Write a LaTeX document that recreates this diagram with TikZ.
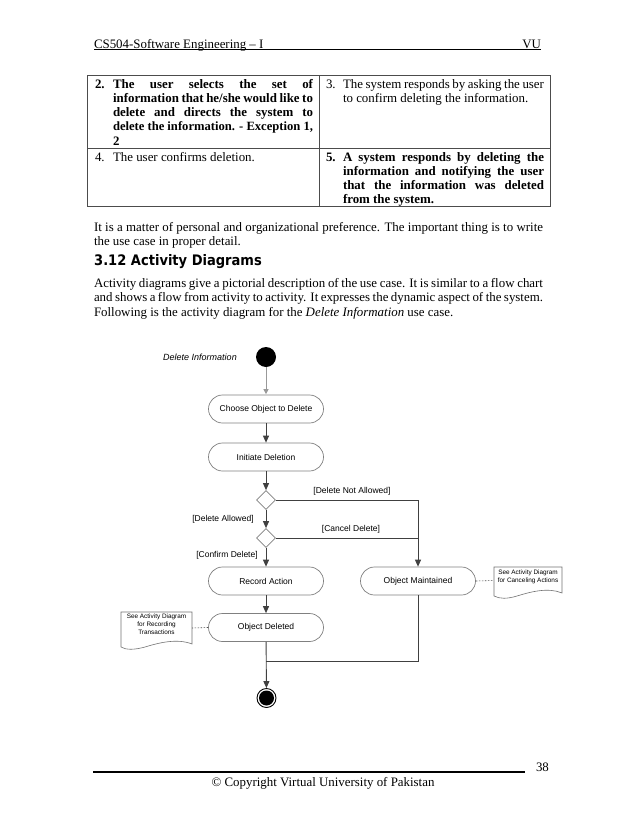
\documentclass[tikz,border=0pt]{standalone}
\usepackage{fontspec}
\setmainfont{Liberation Serif}
\setsansfont{Liberation Sans}
\newfontfamily\headfont[FakeStretch=0.9]{DejaVu Sans}
\usetikzlibrary{arrows.meta,shapes.geometric}
\newcommand{\jline}[1]{\makebox[200bp][s]{#1}}
\begin{document}
\begin{tikzpicture}[x=1bp,y=-1bp,
  body/.style={inner sep=0pt,outer sep=0pt,font=\fontsize{12.9bp}{14.3bp}\selectfont},
  act/.style={draw=black!50,line width=0.7bp,rounded corners=14bp,minimum width=115bp,minimum height=28bp,inner sep=0pt,font=\sffamily\fontsize{8.5bp}{10bp}\selectfont},
  guard/.style={inner sep=0pt,font=\sffamily\fontsize{8.5bp}{10bp}\selectfont},
  notetxt/.style={inner sep=0pt,align=center,font=\sffamily\fontsize{6.4bp}{8.2bp}\selectfont},
  flow/.style={draw=black!75,line width=0.9bp},
  arr/.style={flow,-{Triangle[length=7bp,width=6bp]}},
  choice/.style={diamond,draw=black!50,line width=0.7bp,minimum width=19bp,minimum height=19bp,inner sep=0pt},
  tbl/.style={draw=black!70,line width=0.8bp}
]
\path[use as bounding box,fill=white] (0,0) rectangle (638,826);

% header
\node[body,anchor=base west] (hdl) at (94,48) {CS504-Software Engineering -- I};
\node[body,anchor=base east] (hdr) at (541,48) {VU};
\draw[line width=0.6bp] (94,49.5) -- (541,49.5);

% table
\draw[tbl] (87,75) rectangle (550,206);
\draw[tbl] (87,148) -- (550,148);
\draw[tbl] (319,75) -- (319,206);
\node[body,anchor=base west] (n2) at (95,88) {\bfseries 2.};
\node[body,anchor=base west] (t2) at (113,88) {\parbox[t]{200bp}{\bfseries\fontsize{12.9bp}{14.3bp}\selectfont\noindent
  \jline{The user selects the set of}\\
  \jline{information that he/she would like to}\\
  \jline{delete and directs the system to}\\
  \jline{\fontsize{12.6bp}{14.3bp}\selectfont delete the information. - Exception 1,}\\
  2}};
\node[body,anchor=base west] (n3) at (326,88) {3.};
\node[body,anchor=base west] (t3) at (343,88) {\parbox[t]{201bp}{\fontsize{12.9bp}{14.3bp}\selectfont\noindent
  \makebox[201bp][s]{The system responds by asking the user}\\
  to confirm deleting the information.}};
\node[body,anchor=base west] (n4) at (95,161) {4.};
\node[body,anchor=base west] (t4) at (113,161) {The user confirms deletion.};
\node[body,anchor=base west] (n5) at (326,161) {\bfseries 5.};
\node[body,anchor=base west] (t5) at (343,161) {\parbox[t]{201bp}{\bfseries\fontsize{12.9bp}{14.3bp}\selectfont\noindent
  \makebox[201bp][s]{A system responds by deleting the}\\
  \makebox[201bp][s]{information and notifying the user}\\
  \makebox[201bp][s]{that the information was deleted}\\
  from the system.}};

% paragraph 1
\node[body,anchor=base west] (p1) at (94,231) {\parbox[t]{449bp}{\fontsize{12.9bp}{14.8bp}\selectfont\noindent
  \makebox[449bp][s]{It is a matter of personal and organizational preference. The important thing is to write}\\
  the use case in proper detail.}};
\node[inner sep=0pt,anchor=base west,font=\headfont\bfseries\fontsize{14.5bp}{16bp}\selectfont] (head) at (94,265) {3.12 Activity Diagrams};
\node[body,anchor=base west] (p2) at (94,287) {\parbox[t]{449bp}{\fontsize{12.9bp}{14.6bp}\selectfont\noindent
  \makebox[449bp][s]{Activity diagrams give a pictorial description of the use case. It is similar to a flow chart}\\
  \makebox[449bp][s]{and shows a flow from activity to activity. It expresses the dynamic aspect of the system.}\\
  Following is the activity diagram for the \textit{Delete Information} use case.}};

% diagram
\node[inner sep=0pt,font=\sffamily\itshape\fontsize{9bp}{11bp}\selectfont] (title) at (200,357) {Delete Information};
\node[circle,fill=black,minimum size=20bp,inner sep=0pt] (start) at (266,357) {};
\node[act] (choose) at (266,409) {Choose Object to Delete};
\node[act] (init) at (266,457) {Initiate Deletion};
\node[choice] (d1) at (266,500) {};
\node[choice] (d2) at (266,538) {};
\node[act] (record) at (266,581) {Record Action};
\node[act] (maint) at (418,581) {Object Maintained};
\node[act] (deleted) at (266,627.5) {Object Deleted};
\node[circle,draw=black,line width=0.9bp,minimum size=19bp,inner sep=0pt] (endo) at (266.5,698) {};
\node[circle,fill=black,minimum size=15bp,inner sep=0pt] (endi) at (266.5,698) {};

\coordinate (c1) at (418,500);
\coordinate (c2) at (418,538);
\coordinate (c3) at (418,661);
\coordinate (c4) at (266,661);

\draw[draw=black!40,line width=0.8bp,-{Triangle[length=5bp,width=5bp]},shorten >=0.5bp] (start) -- (choose);
\draw[arr] (choose) -- (init);
\draw[arr] (init) -- (d1);
\draw[arr] (d1) -- (d2);
\draw[arr] (d2) -- (record);
\draw[flow] (d1.east) -- (c1);
\draw[flow] (d2.east) -- (c2);
\draw[arr] (c1) -- (maint.north);
\draw[arr] (record) -- (deleted);
\draw[arr] (deleted) -- (endo);
\draw[flow] (maint.south) -- (c3) -- (c4);

\node[guard] (g1) at (352,491) {[Delete Not Allowed]};
\node[guard] (g2) at (351,529) {[Cancel Delete]};
\node[guard] (g3) at (223,519) {[Delete Allowed]};
\node[guard] (g4) at (227,555) {[Confirm Delete]};

% notes
\node[minimum width=68bp,minimum height=27bp,inner sep=0pt] (note1) at (528,580.5) {};
\node[notetxt] (note1t) at (528,577) {See Activity Diagram\\for Canceling Actions};
\draw[draw=black!55,line width=0.6bp] (494,596) -- (494,567) -- (562,567) -- (562,593)
  .. controls (548,587) and (530,592) .. (517,596) .. controls (507,599) and (500,599) .. (494,596);
\node[minimum width=71bp,minimum height=30bp,inner sep=0pt] (note2) at (156.5,628) {};
\node[notetxt] (note2t) at (156.5,624) {See Activity Diagram\\for Recording\\Transactions};
\draw[draw=black!55,line width=0.6bp] (121,647) -- (121,612) -- (192,612) -- (192,644)
  .. controls (177,638) and (158,643) .. (145,647) .. controls (134,650) and (126,650) .. (121,647);
\draw[draw=black!70,line width=0.6bp,dash pattern=on 1.5bp off 1.5bp] (maint.east) -- (note1.west);
\draw[draw=black!70,line width=0.6bp,dash pattern=on 1.5bp off 1.5bp] (deleted.west) -- (note2.east);

% footer
\draw[line width=1.3bp] (93,772) -- (525,772);
\node[body,anchor=base west] (pg) at (536,771) {38};
\node[body,anchor=base] (copy) at (323,786) {© Copyright Virtual University of Pakistan};
\end{tikzpicture}
\end{document}
